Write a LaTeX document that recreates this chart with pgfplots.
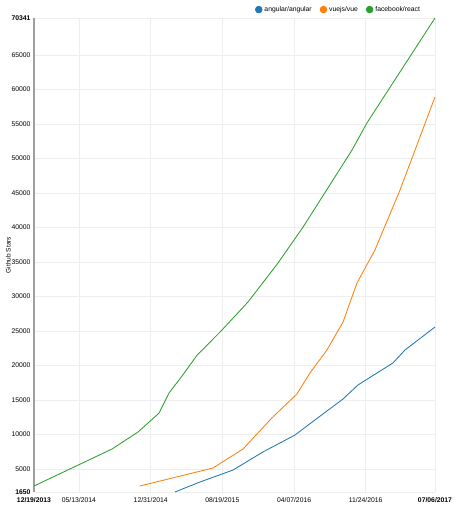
\documentclass[border=0pt]{standalone}
\usepackage{fontspec}
\setmainfont{Liberation Sans}
\usepackage{pgfplots}
\pgfplotsset{compat=1.18}

\definecolor{ngblue}{HTML}{1F77B4}
\definecolor{vueorange}{HTML}{FF7F0E}
\definecolor{reactgreen}{HTML}{2CA02C}

% days counted from 12/19/2013
\begin{document}
\begin{tikzpicture}
\begin{axis}[
    scale only axis,
    width=401pt, height=474pt,
    xmin=0, xmax=1295,
    ymin=1650, ymax=70341,
    scaled y ticks=false,
    axis line style={draw=none},
    major tick length=0pt,
    grid=major,
    major grid style={gray!13, line width=0.5pt},
    xtick={0,145,377,608,840,1071,1295},
    xticklabels={\textbf{12/19/2013},05/13/2014,12/31/2014,08/19/2015,04/07/2016,11/24/2016,\textbf{07/06/2017}},
    ytick={1650,5000,10000,15000,20000,25000,30000,35000,40000,45000,50000,55000,60000,65000,70341},
    yticklabels={\textbf{1650},5000,10000,15000,20000,25000,30000,35000,40000,45000,50000,55000,60000,65000,\textbf{70341}},
    tick label style={font=\fontsize{6.8}{8}\selectfont},
    xticklabel style={yshift=-2.5pt},
    yticklabel style={xshift=0pt},
    ylabel={Github Stars},
    ylabel style={font=\fontsize{6.5}{8}\selectfont, yshift=-6pt},
    legend columns=3,
    legend style={draw=none, fill=none, at={(0.968,1)}, anchor=south east,
        yshift=3pt, font=\fontsize{6.8}{8}\selectfont,
        /tikz/every even column/.append style={column sep=6pt},
        inner sep=0pt},
    legend image code/.code={\fill[#1] (1pt,0) circle (3.3pt);},
    legend cell align=left,
    clip=false,
]
\coordinate (o) at (rel axis cs:0,0);
\draw[gray!75, line width=2.5pt] (rel axis cs:0,0) -- (rel axis cs:0,1);

\addplot[color=ngblue, line width=0.85pt] coordinates {
 (455,1650) (536,3099) (643,4838) (739,7446) (843,9909) (907,12083)
 (998,15126) (1046,17154) (1159,20342) (1198,22226) (1295,25559)
};
\addlegendentry{angular/angular}

\addplot[color=vueorange, line width=0.85pt] coordinates {
 (342,2519) (578,5128) (675,7881) (768,12373) (849,15850) (891,18893)
 (946,22226) (998,26283) (1043,31934) (1101,36716) (1182,45410) (1295,58900)
};
\addlegendentry{vuejs/vue}

\addplot[color=reactgreen, line width=0.85pt] coordinates {
 (0,2519) (252,7881) (336,10344) (404,13097) (436,15995) (478,18458)
 (527,21501) (601,24834) (643,26863) (691,29181) (788,34832) (869,40049)
 (1027,51206) (1075,55118) (1295,70341)
};
\addlegendentry{facebook/react}
\end{axis}
\path (o) ++(-34pt,-24pt) rectangle ++(474pt,516pt);
\end{tikzpicture}
\end{document}
